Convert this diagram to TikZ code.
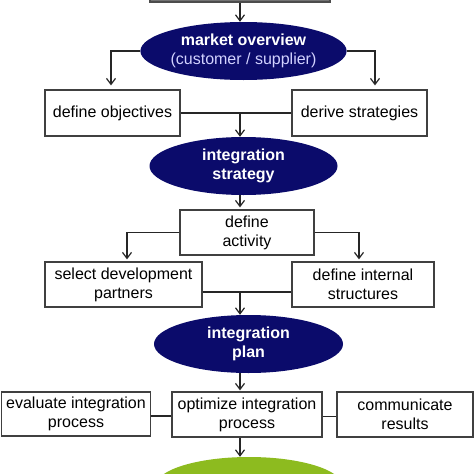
\documentclass[tikz,border=0pt]{standalone}
\usepackage{fontspec}
\setmainfont{Liberation Sans}
\usetikzlibrary{shapes.geometric,arrows.meta}
\definecolor{navy}{HTML}{0B0B6B}
\definecolor{lgreen}{HTML}{8DBB1F}
\definecolor{lav}{HTML}{D2D2FF}
\definecolor{edge}{HTML}{404040}
\begin{document}
\begin{tikzpicture}[x=1pt,y=-1pt,
  every node/.style={font=\fontsize{16}{19}\selectfont, align=center, inner sep=0pt},
  stepbox/.style={draw=edge, line width=1.3pt, fill=white, rectangle},
  oval/.style={ellipse, fill=navy, text=white, minimum width=188pt, minimum height=58pt},
  goal/.style={ellipse, fill=lgreen, minimum width=187pt, minimum height=58pt},
  conn/.style={draw=black!85, line width=1.2pt},
  arr/.style={conn, -{Straight Barb[length=6pt,width=9pt,line width=1.2pt]}}
]
\useasboundingbox (0,0) rectangle (474,474);
\fill[white] (0,0) rectangle (474,474);
% top box (cut off)
\node[draw=black!70, fill=black!55, line width=1.5pt, minimum width=180pt, minimum height=20pt] (topbox) at (240,-8) {};
% ellipses
\node[oval] (e1) at (243.5,51) {\textbf{market overview}\\\textcolor{lav}{(customer / supplier)}};
\node[oval] (e2) at (243.5,166) {\textbf{integration}\\\textbf{strategy}};
\node[oval, minimum width=189pt] (e3) at (248.5,344) {\textbf{integration}\\\textbf{plan}};
\node[goal] (e4) at (249,486) {};
% boxes
\node[stepbox, minimum width=135pt, minimum height=46pt] (obj) at (112.5,113) {define objectives};
\node[stepbox, minimum width=135pt, minimum height=46pt] (strat) at (359.5,113) {derive strategies};
\node[stepbox, minimum width=134pt, minimum height=45pt] (act) at (247,232.5) {define\\activity};
\node[stepbox, minimum width=157pt, minimum height=45pt] (sel) at (123.5,284.5) {select development\\partners};
\node[stepbox, minimum width=142pt, minimum height=45pt] (intl) at (363,284.5) {define internal\\structures};
\node[stepbox, minimum width=149pt, minimum height=44pt] (eval) at (76,414) {evaluate integration\\process};
\node[stepbox, minimum width=150pt, minimum height=45pt] (opt) at (247,414.5) {optimize integration\\process};
\node[stepbox, minimum width=136pt, minimum height=45pt] (comm) at (405,414.5) {communicate\\results};
% junction coordinates
\coordinate (c) at (240,0);
\coordinate (j1) at (240,113);
\coordinate (j2) at (240,292);
\coordinate (lt) at (111,0);
\coordinate (rt) at (375,0);
\coordinate (lt2) at (127,0);
\coordinate (rt2) at (359,0);
% connectors
\draw[arr] (topbox.south) -- (topbox.south |- e1.north);
\draw[arr, shorten >=4pt] (e1.west) -| (lt |- obj.north);
\draw[arr, shorten >=4pt] (e1.east) -| (rt |- strat.north);
\draw[conn] (obj.east) -- (strat.west);
\draw[arr] (j1) -- (j1 |- e2.north);
\draw[arr, shorten >=2pt] (c |- e2.south) -- (c |- act.north);
\draw[arr, shorten >=2pt] (act.west) -| (lt2 |- sel.north);
\draw[arr, shorten >=2pt] (act.east) -| (rt2 |- intl.north);
\draw[conn] (sel.east |- j2) -- (intl.west |- j2);
\draw[arr] (j2) -- (j2 |- e3.north);
\draw[arr, shorten >=1pt] (c |- e3.south) -- (c |- opt.north);
\draw[conn] ([yshift=-2pt]eval.east) -- ([yshift=-2pt]eval.east -| opt.west);
\draw[conn] ([yshift=-2pt]opt.east) -- ([yshift=-2pt]opt.east -| comm.west);
\draw[arr] (c |- opt.south) -- (c |- e4.north);
\end{tikzpicture}
\end{document}
